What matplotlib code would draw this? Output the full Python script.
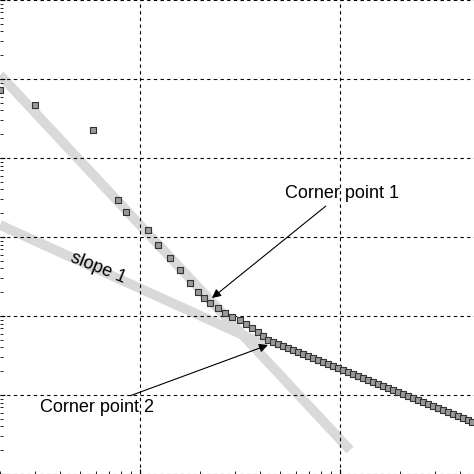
import matplotlib
matplotlib.use("Agg")
import matplotlib.pyplot as plt

plt.rcParams['font.family'] = ['Liberation Sans', 'DejaVu Sans']

# pixel-read data (x px, y px) converted to log-log values
px = [0, 35, 93, 118, 126, 148, 158, 170, 180, 190, 198, 204, 210, 218, 225, 232, 240, 246, 252, 258, 263,
      268, 273, 278, 283, 288, 293, 298, 303, 308, 313, 318, 323, 328, 333, 338, 343, 348, 353, 358,
      363, 368, 373, 378, 383, 388, 393, 398, 403, 408, 413, 418, 423, 428, 433, 438, 443, 448, 453,
      458, 463, 468, 472]
py = [90, 105, 130, 200, 212, 230, 245, 258, 270, 283, 292, 298, 303, 308, 313, 317, 320, 324, 328, 332, 336,
      340, 342, 344, 346, 348, 350, 352, 354, 356, 358, 360, 362, 364, 366, 368, 370, 372, 374, 376,
      378, 380, 382, 384, 386, 388, 390, 392, 394, 396, 398, 400, 402, 404, 406, 408, 410, 412, 414,
      416, 418, 420, 422]
x_data = [10 ** ((p - 140) / 200) for p in px]
y_data = [10 ** ((395 - q) / 79) for q in py]

line1_px = [(0, 75), (350, 450)]
line2_px = [(0, 225), (265, 345)]

def conv(pt):
    return 10 ** ((pt[0] - 140) / 200), 10 ** ((395 - pt[1]) / 79)

fig = plt.figure(figsize=(4.74, 4.74), dpi=100)
ax = fig.add_axes([0, 0, 1, 1])
ax.set_xscale("log"); ax.set_yscale("log")
ax.set_xlim(10 ** (-0.7), 10 ** (334 / 200))
ax.set_ylim(10 ** (-1), 10 ** (395 / 79))

for ln in (line1_px, line2_px):
    a, b = conv(ln[0]), conv(ln[1])
    ax.plot([a[0], b[0]], [a[1], b[1]], color="#d9d9d9", lw=7, solid_capstyle="butt", zorder=1)

ax.scatter(x_data, y_data, marker="s", s=22, facecolor="#999999", edgecolor="#333333", lw=0.8, zorder=3)

ax.grid(True, which="major", ls=(0, (3, 3)), color="black", lw=0.8)
ax.tick_params(which="both", direction="in", labelleft=False, labelbottom=False)
for s in ax.spines.values():
    s.set_visible(False)

ax.annotate("Corner point 1", xy=conv((212, 298)), xytext=conv((285, 193)), fontsize=13,
            ha="left", va="center", arrowprops=dict(arrowstyle="-|>", color="black", lw=0.8, shrinkA=2, shrinkB=0))
ax.annotate("Corner point 2", xy=conv((268, 345)), xytext=conv((40, 408)), fontsize=13,
            ha="left", va="center", arrowprops=dict(arrowstyle="-|>", color="black", lw=0.8, shrinkA=2, shrinkB=0))
tx, ty = conv((98, 268))
ax.text(tx, ty, "slope 1", fontsize=13, rotation=-22, ha="center", va="center")

fig.savefig("out.png", dpi=100)
